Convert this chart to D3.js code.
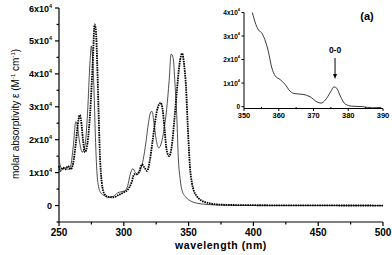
<!DOCTYPE html>
<html>
<head>
<meta charset="utf-8">
<script src="https://cdn.jsdelivr.net/npm/d3@7"></script>
<style>
  body { margin: 0; background: #fff; }
  svg { display: block; font-family: Arial, "Liberation Sans", sans-serif; }
</style>
</head>
<body>
<svg id="chart" width="392" height="255"></svg>
<script>
// values in units of 1x10^4 M-1 cm-1
const solidNm = [250, 251, 253, 255, 257, 259, 261, 263, 264, 266, 268, 270, 272, 274, 275, 276, 277, 278, 279, 280, 282, 285, 288, 292, 295, 298, 301, 303, 305, 307, 309, 311, 313, 315, 317, 319, 321, 322, 323, 325, 327, 329, 331, 333, 335, 336.5, 338, 339.5, 341, 342, 343.5, 345, 348, 352, 358, 365, 380, 400, 500];
const solidVal = [1.45, 1.2, 1.1, 1.15, 1.1, 1.2, 1.8, 2.55, 2.45, 1.9, 1.62, 1.8, 2.8, 4.4, 4.85, 4.4, 3.5, 2.2, 1.2, 0.7, 0.4, 0.3, 0.25, 0.28, 0.38, 0.42, 0.45, 0.6, 0.95, 1.12, 1.0, 0.95, 1.1, 1.4, 1.9, 2.5, 2.85, 2.85, 2.6, 2.0, 1.75, 1.9, 2.3, 2.9, 3.8, 4.6, 4.5, 3.7, 2.6, 1.5, 0.8, 0.45, 0.25, 0.13, 0.06, 0.03, 0.01, 0, 0];

const dottedNm = [250, 251, 253, 255, 257, 259, 261, 263, 265, 266, 267, 268.5, 270, 272, 274, 276, 277.5, 278.5, 279.5, 280.5, 281.5, 283, 285, 288, 292, 296, 300, 303, 306, 308, 310, 312, 314, 316, 318, 320, 322, 324, 326, 328.5, 330, 331.5, 333, 335, 337, 339, 341, 343, 345, 346.5, 348, 349.5, 351, 352.5, 354, 356, 360, 365, 370, 380, 400, 500];
const dottedVal = [1.2, 1.05, 1.15, 1.1, 1.2, 1.1, 1.3, 1.9, 2.6, 2.75, 2.6, 2.0, 1.62, 1.9, 2.8, 4.3, 5.5, 5.3, 4.3, 2.9, 1.6, 0.7, 0.35, 0.26, 0.25, 0.32, 0.4, 0.48, 0.7, 0.95, 0.95, 1.05, 1.25, 1.15, 1.05, 1.35, 1.9, 2.5, 2.95, 3.12, 2.9, 2.3, 1.7, 1.5, 1.8, 2.6, 3.5, 4.3, 4.62, 4.3, 3.6, 2.3, 1.2, 0.7, 0.45, 0.3, 0.15, 0.08, 0.04, 0.02, 0.01, 0];

const insetNm = [352.4, 353.4, 354.2, 355, 356, 357, 358, 359, 360.4, 361.8, 363.3, 364.7, 367, 369, 371, 372.2, 373.4, 374.9, 375.9, 376.7, 377.7, 379.2, 381, 384, 387, 389.5];
const insetVal = [4.0, 3.5, 3.25, 3.15, 2.85, 2.35, 1.65, 1.3, 1.15, 0.95, 0.65, 0.55, 0.52, 0.42, 0.2, 0.15, 0.28, 0.62, 0.84, 0.78, 0.45, 0.1, 0.02, 0.0, -0.05, -0.03];

const xTicks = [250, 300, 350, 400, 450, 500];
const yTicks = [0, 1, 2, 3, 4, 5, 6];
const insetXTicks = [350, 360, 370, 380, 390];
const insetYTicks = [0, 1, 2, 3, 4];

const svg = d3.select("#chart");

// ---- main plot
const x = d3.scaleLinear().domain([250, 500]).range([59, 383]);
const y = d3.scaleLinear().domain([-0.5, 6]).range([222, 8]);

function sciLabel(sel, v) {
    if (v === 0) { sel.text("0"); return; }
    sel.text(v + "x10");
    sel.append("tspan").attr("dy", -4).attr("font-size", "0.6em").text("4");
}

const axX = svg.append("g").attr("transform", "translate(0,222)");
axX.append("line").attr("x1", x(250)).attr("x2", x(500)).attr("stroke", "#000").attr("stroke-width", 1.2);
axX.selectAll("line.maj").data(xTicks).enter().append("line")
    .attr("x1", d => x(d)).attr("x2", d => x(d)).attr("y1", 0).attr("y2", 4)
    .attr("stroke", "#000").attr("stroke-width", 1.2);
axX.selectAll("line.min").data(xTicks.slice(0, -1).map(d => d + 25)).enter().append("line")
    .attr("x1", d => x(d)).attr("x2", d => x(d)).attr("y1", 0).attr("y2", 2.5)
    .attr("stroke", "#000").attr("stroke-width", 1.2);
axX.selectAll("text").data(xTicks).enter().append("text")
    .attr("x", d => x(d)).attr("y", 14).attr("text-anchor", "middle")
    .attr("font-size", 10).attr("font-weight", "bold").text(d => d);

svg.append("text").attr("x", 221).attr("y", 249).attr("text-anchor", "middle")
    .attr("font-size", 10.5).attr("font-weight", "bold").attr("letter-spacing", 0.6)
    .text("wavelength (nm)");

const axY = svg.append("g").attr("transform", "translate(59,0)");
axY.append("line").attr("y1", y(-0.5)).attr("y2", y(6)).attr("stroke", "#000").attr("stroke-width", 1.2);
axY.selectAll("line.maj").data(yTicks).enter().append("line")
    .attr("y1", d => y(d)).attr("y2", d => y(d)).attr("x1", 0).attr("x2", -4)
    .attr("stroke", "#000").attr("stroke-width", 1.2);
axY.selectAll("line.min").data([-0.5, 0.5, 1.5, 2.5, 3.5, 4.5, 5.5]).enter().append("line")
    .attr("y1", d => y(d)).attr("y2", d => y(d)).attr("x1", 0).attr("x2", -2.5)
    .attr("stroke", "#000").attr("stroke-width", 1.2);
axY.selectAll("text").data(yTicks).enter().append("text")
    .attr("x", -7).attr("y", d => y(d) + 3.5).attr("text-anchor", "end")
    .attr("font-size", 9).attr("font-weight", "bold")
    .each(function(d) { sciLabel(d3.select(this), d); });

const yt = svg.append("text").attr("transform", "translate(19,114) rotate(-90)")
    .attr("text-anchor", "middle").attr("font-size", 10);
yt.append("tspan").text("molar absorptivity \u03b5 (M");
yt.append("tspan").attr("dy", -4).attr("font-size", 6).text("-1");
yt.append("tspan").attr("dy", 4).text(" cm");
yt.append("tspan").attr("dy", -4).attr("font-size", 6).text("-1");
yt.append("tspan").attr("dy", 4).text(")");

const line = d3.line().x(d => x(d[0])).y(d => y(d[1])).curve(d3.curveMonotoneX);

svg.append("path").datum(solidNm.map((d, i) => [d, solidVal[i]]))
    .attr("d", line).attr("fill", "none").attr("stroke", "#3a3a3a").attr("stroke-width", 0.9);
svg.append("path").datum(dottedNm.map((d, i) => [d, dottedVal[i]]))
    .attr("d", line).attr("fill", "none").attr("stroke", "#000").attr("stroke-width", 1.8)
    .attr("stroke-dasharray", "1.6,0.8");

// ---- inset
const ix = d3.scaleLinear().domain([350, 390]).range([244, 383]);
const iy = d3.scaleLinear().domain([-0.08, 4]).range([108.5, 12.5]);

const iaX = svg.append("g").attr("transform", "translate(0,108.5)");
iaX.append("line").attr("x1", ix(350)).attr("x2", ix(390)).attr("stroke", "#000");
iaX.selectAll("line.maj").data(insetXTicks).enter().append("line")
    .attr("x1", d => ix(d)).attr("x2", d => ix(d)).attr("y1", 0).attr("y2", 2.5).attr("stroke", "#000");
iaX.selectAll("line.min").data(insetXTicks.slice(0, -1).map(d => d + 5)).enter().append("line")
    .attr("x1", d => ix(d)).attr("x2", d => ix(d)).attr("y1", 0).attr("y2", -1.5).attr("stroke", "#000");
iaX.selectAll("text").data(insetXTicks).enter().append("text")
    .attr("x", d => ix(d)).attr("y", 9).attr("text-anchor", "middle")
    .attr("font-size", 7.5).attr("font-weight", "bold").text(d => d);

const iaY = svg.append("g").attr("transform", "translate(244,0)");
iaY.append("line").attr("y1", iy(-0.08)).attr("y2", iy(4)).attr("stroke", "#000");
iaY.selectAll("line.maj").data(insetYTicks).enter().append("line")
    .attr("y1", d => iy(d)).attr("y2", d => iy(d)).attr("x1", 0).attr("x2", -2.5).attr("stroke", "#000");
iaY.selectAll("text").data(insetYTicks).enter().append("text")
    .attr("x", -4).attr("y", d => iy(d) + 2.5).attr("text-anchor", "end")
    .attr("font-size", 6.5).attr("font-weight", "bold")
    .each(function(d) { sciLabel(d3.select(this), d); });

const iline = d3.line().x(d => ix(d[0])).y(d => iy(d[1])).curve(d3.curveMonotoneX);
svg.append("path").datum(insetNm.map((d, i) => [d, insetVal[i]]))
    .attr("d", iline).attr("fill", "none").attr("stroke", "#222").attr("stroke-width", 0.9);

// 0-0 label and arrow
const peakX = ix(376.2);
svg.append("text").attr("x", peakX).attr("y", 53).attr("text-anchor", "middle")
    .attr("font-size", 8.5).attr("font-weight", "bold").text("0-0");
svg.append("line").attr("x1", peakX).attr("x2", peakX).attr("y1", 58).attr("y2", 76)
    .attr("stroke", "#000").attr("stroke-width", 1);
svg.append("path").attr("d", `M${peakX - 2},${74} L${peakX},${79} L${peakX + 2},${74} Z`).attr("fill", "#000");

svg.append("text").attr("x", 367).attr("y", 20).attr("text-anchor", "middle")
    .attr("font-size", 11).attr("font-weight", "bold").text("(a)");
</script>
</body>
</html>
